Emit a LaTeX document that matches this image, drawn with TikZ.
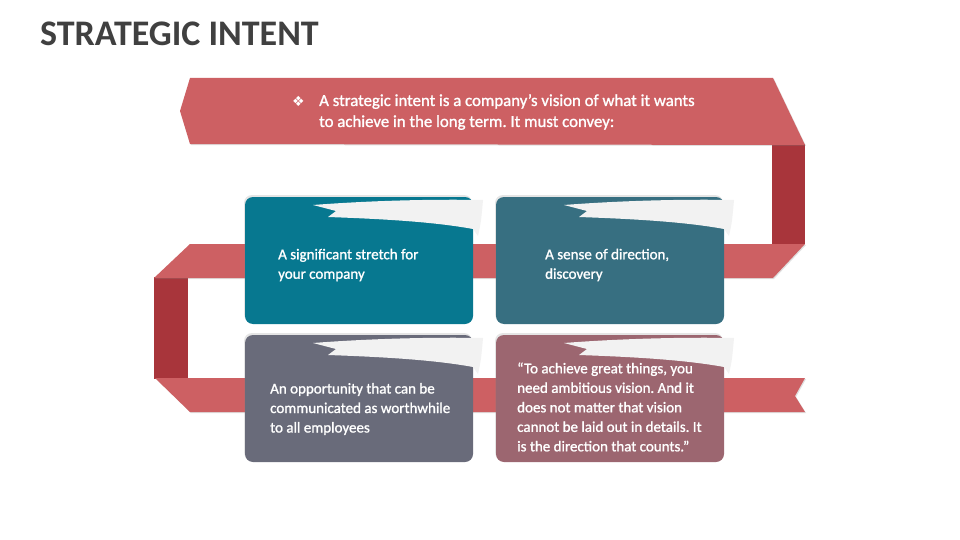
\documentclass[tikz,border=0pt]{standalone}
\usepackage{fontspec}
\setmainfont{Carlito}
\newfontfamily\heavyfont[FakeBold=1.2]{Carlito}
\newfontfamily\symfont{DejaVu Sans}
\usetikzlibrary{shadows}
\frenchspacing
\definecolor{ribbon}{HTML}{CD6063}
\definecolor{ribbondark}{HTML}{A8353B}
\definecolor{cardA}{HTML}{077890}
\definecolor{cardB}{HTML}{376F81}
\definecolor{cardC}{HTML}{696B7A}
\definecolor{cardD}{HTML}{9C6670}
\definecolor{curlgray}{HTML}{F2F2F2}
\definecolor{titlegray}{HTML}{404040}
\tikzset{
  ribbonband/.style={fill=ribbon, drop shadow={opacity=0.25, shadow xshift=1pt, shadow yshift=-1pt}},
  ribbonfold/.style={fill=ribbondark},
  cardbox/.style={rounded corners=8pt, drop shadow={opacity=0.2, shadow xshift=-1pt, shadow yshift=2pt}},
  curlfill/.style={fill=curlgray},
  cardtext/.style={text=white, anchor=west, inner sep=0pt, align=left, font=\heavyfont\fontsize{15}{19.5}\selectfont},
}
\newcommand{\cardcurl}[2]{\fill[curlfill, shift={(#1,#2)}] (68,8) -- (91,14) -- (83,20) .. controls (140,22) and (190,25) .. (228,32) -- (233,39) .. controls (236,25) .. (238,3) .. controls (180,2) and (120,4) .. (68,8) -- cycle;}
\begin{document}
\begin{tikzpicture}[x=1pt,y=-1pt]
\useasboundingbox (0,0) rectangle (960,540);
\fill[white] (0,0) rectangle (960,540);
% title
\node[anchor=base west, inner sep=0pt, text=titlegray, font=\fontsize{36}{42}\selectfont\bfseries] (title) at (40,46) {STRATEGIC INTENT};
% ribbon
\fill[ribbonfold] (772,144) rectangle (805,244);
\fill[ribbonband] (190,78) -- (773,78) -- (805,145) -- (190,144) -- (180,111) -- cycle;
\fill[ribbonfold] (154,277) rectangle (188,379);
\fill[ribbonband] (190,244) -- (805,244) -- (773,278) -- (154,278) -- cycle;
\fill[ribbonband] (155,378) -- (805,378) -- (795,396) -- (805,412) -- (190,412) -- cycle;
% top text
\node[anchor=west, inner sep=0pt, text=white, font=\symfont\fontsize{14}{15}\selectfont] (bullet) at (292,101) {❖};
\node[anchor=west, inner sep=0pt, text=white, align=left, font=\heavyfont\fontsize{16.8}{21}\selectfont] (intro) at (319,112) {A strategic intent is a company’s vision of what it wants\\to achieve in the long term. It must convey:};
% cards
\fill[cardbox, fill=cardA] (245,197) rectangle (473,324);
\fill[cardbox, fill=cardB] (496,197) rectangle (724,324);
\fill[cardbox, fill=cardC] (245,335) rectangle (473,462);
\fill[cardbox, fill=cardD] (496,335) rectangle (724,462);
\cardcurl{245}{197}
\cardcurl{496}{197}
\cardcurl{245}{335}
\cardcurl{496}{335}
\node[cardtext] (t1) at (278,265) {A significant stretch for\\your company};
\node[cardtext] (t2) at (545,265) {A sense of direction,\\discovery};
\node[cardtext] (t3) at (270,409) {An opportunity that can be\\communicated as worthwhile\\to all employees};
\node[cardtext] (t4) at (517,407) {“To achieve great things, you\\need ambitious vision. And it\\does not matter that vision\\cannot be laid out in details. It\\is the direction that counts.”};
\end{tikzpicture}
\end{document}
